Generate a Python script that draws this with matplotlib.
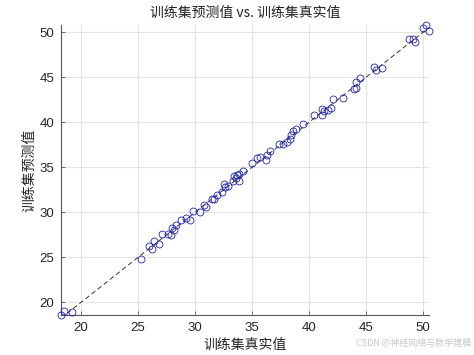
import matplotlib
matplotlib.use("Agg")
import matplotlib.pyplot as plt
import numpy as np

plt.rcParams['font.family'] = ['Noto Sans CJK SC', 'DejaVu Sans']

true_vals = [18.25, 18.5, 19.2, 25.25, 26.0, 26.25, 26.4, 26.85, 27.1, 27.65,
             27.9, 28.15, 28.0, 28.3, 28.8, 29.2, 29.55, 29.8, 30.45, 30.8,
             31.0, 31.45, 31.65, 31.95, 32.35, 32.5, 32.65, 32.85, 33.3, 33.4,
             33.55, 33.7, 33.9, 33.85, 34.2, 35.0, 35.4, 35.7, 36.25, 36.35,
             36.6, 37.35, 37.7, 38.05, 38.3, 38.45, 38.6, 38.85, 39.45, 40.4,
             41.1, 41.1, 41.35, 41.7, 41.9, 42.1, 43.0, 43.95, 44.1, 44.1,
             44.5, 45.7, 45.9, 46.4, 48.8, 49.15, 49.3, 49.95, 50.25, 50.5]
pred_vals = [18.6, 19.0, 18.9, 24.85, 26.3, 25.9, 26.85, 26.45, 27.55, 27.55,
             27.5, 28.0, 28.3, 28.6, 29.1, 29.4, 29.15, 30.2, 30.05, 30.8,
             30.6, 31.45, 31.5, 31.9, 32.2, 33.1, 32.8, 32.95, 33.45, 34.0,
             33.8, 34.15, 33.5, 34.2, 34.55, 35.5, 36.0, 36.15, 35.85, 36.4,
             36.8, 37.6, 37.6, 37.85, 38.1, 38.6, 39.05, 39.3, 39.85, 40.8,
             40.8, 41.5, 41.3, 41.35, 41.55, 42.6, 42.65, 43.7, 43.85, 44.45,
             44.9, 46.15, 45.85, 46.0, 49.25, 49.25, 48.9, 50.45, 50.8, 50.1]

x_ticks = [20, 25, 30, 35, 40, 45, 50]
y_ticks = [20, 25, 30, 35, 40, 45, 50]

title = '训练集预测值 vs. 训练集真实值'
xlabel = '训练集真实值'
ylabel = '训练集预测值'

fig = plt.figure(figsize=(4.74, 3.55), dpi=100)
ax = fig.add_axes([0.1287, 0.1127, 0.776, 0.817])

xmin, xmax = min(true_vals), max(true_vals)
ymin, ymax = min(pred_vals), max(pred_vals)

ax.plot([xmin, xmax], [xmin, xmax], color='#333333', linestyle=(0, (5, 3)), linewidth=0.7, zorder=2)
ax.plot(true_vals, pred_vals, linestyle='none', marker='o', markersize=5,
        markerfacecolor='none', markeredgecolor='#2424a8', markeredgewidth=0.6,
        zorder=3, clip_on=False)

ax.set_xlim(xmin, xmax)
ax.set_ylim(ymin, ymax)
ax.set_xticks(x_ticks)
ax.set_yticks(y_ticks)
ax.grid(True, color='#e3e3e3', linewidth=0.8)
ax.set_axisbelow(True)
for s in ['top', 'right']:
    ax.spines[s].set_visible(False)
for s in ['left', 'bottom']:
    ax.spines[s].set_color('#555555')
    ax.spines[s].set_linewidth(0.8)
ax.tick_params(direction='in', length=3, width=0.6, color='#555555',
               labelsize=9.5, labelcolor='#262626', pad=5)
for lab in ax.get_xticklabels() + ax.get_yticklabels():
    lab.set_family(['Liberation Sans', 'DejaVu Sans'])

ax.set_title(title, fontsize=10, color='#222222', pad=6)
ax.set_xlabel(xlabel, fontsize=10, color='#222222', labelpad=3)
ax.set_ylabel(ylabel, fontsize=10, color='#222222', labelpad=2)

fig.text(0.995, 0.02, 'CSDN @神经网络与数学建模', ha='right', va='bottom',
         fontsize=6.5, color='#c8c8c8')

fig.savefig('out.png', dpi=100)
